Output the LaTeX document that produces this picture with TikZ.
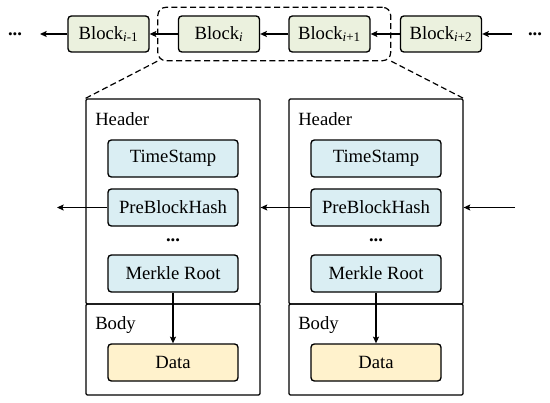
\documentclass[tikz,border=0pt]{standalone}
\usepackage{fontspec}
\setmainfont{Liberation Serif}
\usetikzlibrary{positioning,arrows.meta,fit}
\definecolor{blockfill}{HTML}{EBF1DE}
\definecolor{fieldfill}{HTML}{DAEEF3}
\definecolor{datafill}{HTML}{FFF2CC}

\begin{document}
\begin{tikzpicture}[x=0.75pt,y=-0.75pt,
  txt/.style={font=\fontsize{14}{16}\selectfont},
  blk/.style={txt,draw,line width=1pt,rounded corners=2.5pt,fill=blockfill,minimum width=60.75pt,minimum height=27pt,inner sep=0pt},
  fld/.style={txt,draw,line width=1pt,rounded corners=2.5pt,fill=fieldfill,minimum width=97.5pt,minimum height=27.75pt,inner sep=0pt},
  part/.style={draw,line width=0.9pt,rounded corners=1pt,minimum width=130.5pt,inner sep=0pt},
  dots/.style={font=\fontsize{14}{16}\selectfont\bfseries,inner sep=0pt},
  arr/.style={line width=0.9pt,-{Stealth[length=5pt,width=4.5pt,inset=1pt]}},
  dsh/.style={line width=0.9pt,dash pattern=on 4.5pt off 2.5pt}]
  \useasboundingbox (0,0) rectangle (550,403);

  % chain of blocks
  \foreach \k/\x/\s in {1/108.5/{\textit{i}-1},2/219/{\textit{i}},3/329.5/{\textit{i}+1},4/441/{\textit{i}+2}}{
    \node[blk] (b\k) at (\x,34) {Block\textsubscript{\s}};
  }
  \node[dots] (dl) at (15,34) {...};
  \node[dots] (dr) at (535,34) {...};
  \coordinate (outT) at (40,34);
  \coordinate (inT) at (512,34);
  \draw[arr] (b1) -- (outT);
  \foreach \a/\b in {2/1,3/2,4/3}{ \draw[arr] (b\a) -- (b\b); }
  \draw[arr] (inT) -- (b4);
  \node[dsh,draw,rounded corners=6pt,fit=(b2)(b3),inner xsep=15pt,inner ysep=6pt] (grp) {};

  % the two blocks in detail
  \foreach \s/\x in {L/173,R/376}{
    \node[part,minimum height=153.75pt] (hdr\s) at (\x,201.5) {};
    \node[part,minimum height=68.25pt] (bdy\s) at (\x,349.5) {};
    \node[txt,anchor=west,inner sep=0pt] (hl\s) at (\x-78,119) {Header};
    \node[txt,anchor=west,inner sep=0pt] (bl\s) at (\x-78,325) {Body};
    \node[fld] (ts\s) at (\x,158.5) {TimeStamp};
    \node[fld] (pre\s) at (\x,207.5) {PreBlockHash};
    \node[dots] (dd\s) at (\x,240) {...};
    \node[fld] (mr\s) at (\x,273.5) {Merkle Root};
    \node[fld,fill=datafill] (dat\s) at (\x,362.5) {Data};
    \draw[arr] (mr\s) -- (dat\s);
  }
  \draw[dsh] (grp.south west) -- (hdrL.north west);
  \draw[dsh] (grp.south east) -- (hdrR.north east);

  \coordinate (outL) at (57,207.5);
  \coordinate (inR) at (515,207.5);
  \draw[arr] (preL.west) -- (outL);
  \draw[arr] (preR.west) -- (preR.west -| hdrL.east);
  \draw[arr] (inR) -- (inR -| hdrR.east);
\end{tikzpicture}
\end{document}
